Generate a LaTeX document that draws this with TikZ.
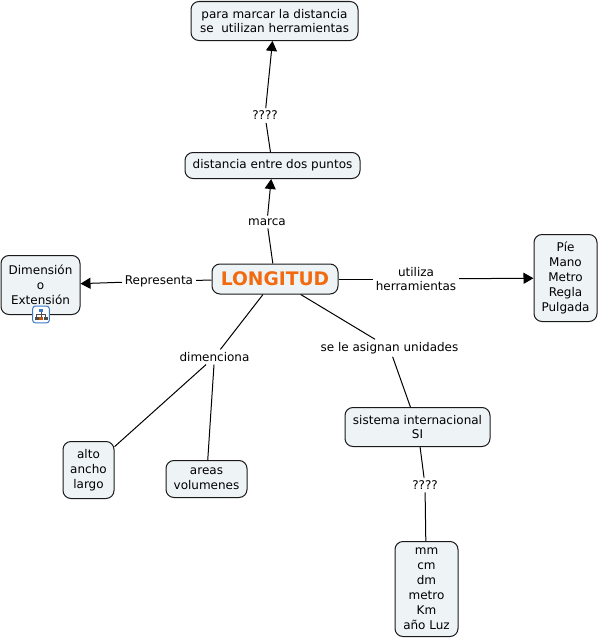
\documentclass[tikz,border=0pt]{standalone}
\usepackage{fontspec}
\setmainfont{DejaVu Sans}
\usetikzlibrary{arrows.meta}
\definecolor{conceptFill}{HTML}{EEF3F6}
\definecolor{conceptLine}{HTML}{1A1A1A}
\definecolor{titleOrange}{HTML}{F26A0F}
\definecolor{iconBlue}{HTML}{3A78C8}

\begin{document}
\begin{tikzpicture}[
        x=0.75pt, y=-0.75pt,
        % Style for the concept boxes
        concept/.style={
            rectangle, draw=conceptLine, line width=0.75pt, fill=conceptFill,
            rounded corners=6pt, align=center, font=\fontsize{9}{11.2}\selectfont,
            inner sep=0pt
        },
        % Style for the linking phrases
        linkLabel/.style={
            align=center, font=\fontsize{9}{11.2}\selectfont, inner sep=2pt
        },
        line/.style={draw=black, line width=0.75pt},
        arrowline/.style={line, -{Triangle[length=7.5pt, width=8.25pt]}}
    ]
        \useasboundingbox (0,0) rectangle (599,639);

        % --- Nodes ---

        % 1. The central concept
        \node [concept, minimum width=94.5pt, minimum height=22.5pt,
            text=titleOrange, font=\fontsize{14}{16}\selectfont\bfseries] (longitud) at (275,279) {LONGITUD};

        % 2. The other concepts (text sits one pixel low in its box)
        \node [concept, minimum width=125.25pt, minimum height=29.25pt] (herramientas) at (274.5,21) {para marcar la distancia\\se\ \ utilizan herramientas};
        \node [concept, minimum width=131.25pt, minimum height=19.5pt] (distancia) at (272.5,165.5) {distancia entre dos puntos};
        \node [concept, minimum width=59.25pt, minimum height=44.25pt] (dimension) at (40.5,285) {Dimensión\\o\\Extensión};
        \node [concept, minimum width=47.25pt, minimum height=65.25pt] (medidas) at (565.5,278) {Píe\\Mano\\Metro\\Regla\\Pulgada};
        \node [concept, minimum width=108.75pt, minimum height=29.25pt] (sistema) at (417.5,427) {sistema internacional\\SI};
        \node [concept, minimum width=38.25pt, minimum height=42.75pt] (alto) at (88.5,470) {alto\\ancho\\largo};
        \node [concept, minimum width=60.75pt, minimum height=27.75pt] (areas) at (206.5,479) {areas\\volumenes};
        \node [concept, minimum width=47.25pt, minimum height=71.25pt] (unidades) at (426.5,589) {mm\\cm\\dm\\metro\\Km\\año Luz};

        % 3. The linking phrases
        \node [linkLabel] (marca) at (267,222) {marca};
        \node [linkLabel] (preguntaA) at (265,115.5) {????};
        \node [linkLabel] (representa) at (159,281) {Representa};
        \node [linkLabel] (utiliza) at (416,279) {utiliza\\herramientas};
        \node [linkLabel] (dimenciona) at (214.5,357) {dimenciona};
        \node [linkLabel] (asignan) at (389.5,348) {se le asignan unidades};
        \node [linkLabel] (preguntaB) at (425,485) {????};

        % 4. The small map icon on the Dimensión box
        \node [draw=iconBlue, line width=0.75pt, fill=white, rounded corners=2pt,
            minimum size=12.5pt, inner sep=0pt] (icon) at (41,314.5) {};
        \draw [line width=0.4pt, black!70] (icon.center) ++(0,-3) -- ++(0,5)
            (icon.center) ++(-4.5,2) -- ++(0,-2) -- ++(9,0) -- ++(0,2);
        \fill [iconBlue] (icon.center) ++(-2,-6) rectangle ++(4,3.5);
        \fill [black!70] (icon.center) ++(-6.5,2) rectangle ++(4,3.5);
        \fill [titleOrange!80!black] (icon.center) ++(-2,2) rectangle ++(4,3.5);
        \fill [black!70] (icon.center) ++(2.5,2) rectangle ++(4,3.5);

        % --- Edges ---

        \path [line] (longitud) -- (marca);
        \path [arrowline] (marca) -- (distancia);
        \path [line] (distancia) -- (preguntaA);
        \path [arrowline] (preguntaA) -- (herramientas);

        \path [line] (longitud) -- (representa);
        \path [arrowline] (representa) -- (dimension);

        \path [line] (longitud) -- (utiliza);
        \path [arrowline] (utiliza) -- (medidas);

        \path [line] (longitud) -- (dimenciona);
        \path [line] (dimenciona) -- (alto);
        \path [line] (dimenciona) -- (areas);

        \path [line] (longitud) -- (asignan);
        \path [line] (asignan) -- (sistema);
        \path [line] (sistema) -- (preguntaB);
        \path [line] (preguntaB) -- (unidades);

    \end{tikzpicture}
\end{document}
